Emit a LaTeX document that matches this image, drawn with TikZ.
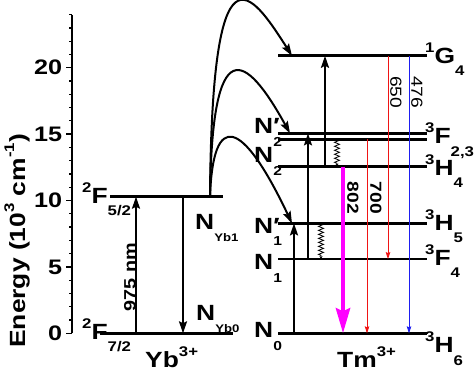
\documentclass[tikz,border=0pt]{standalone}
\usepackage{fontspec}
\setmainfont{Liberation Sans}[FakeStretch=1.2]
\usetikzlibrary{arrows.meta,positioning,decorations.pathmorphing}
\newcommand{\fs}[1]{\fontsize{#1}{#1}\selectfont}
\newcommand{\up}[1]{\raisebox{.5em}{\fs{14}#1}}
\newcommand{\dn}[2][14]{\raisebox{-.55em}{\fs{#1}#2}}
\newcommand{\term}[3]{\up{#1}#2\dn{#3}}
\newcommand{\pr}{\rlap{\char"2032}}
\definecolor{emred}{RGB}{240,20,20}
\definecolor{emblue}{RGB}{30,30,240}
\definecolor{emmag}{RGB}{255,0,255}

\begin{document}
\begin{tikzpicture}[x=1pt, y=13.28pt,
  lvl/.style={line width=2.7pt},
  ar/.style={line width=2.2pt, -{Stealth[length=12pt,width=8pt,inset=2pt]}},
  cv/.style={ar, line width=2pt},
  wv/.style={line width=.8pt, -{Stealth[length=3pt,width=3pt]}, decorate,
             decoration={zigzag, amplitude=2.5pt, segment length=4pt, post length=3pt}},
  em/.style={line width=.9pt, -{Stealth[length=7pt,width=4.5pt,inset=1pt]}},
  lbl/.style={inner sep=0pt, anchor=base west, font=\bfseries\fs{22}},
  nm/.style={inner sep=0pt, rotate=-90, font=\fs{16}},
  tk/.style={inner sep=0pt, font=\bfseries\fs{21}}]
\useasboundingbox (0,-2.84) rectangle (474,25.10);

% energy axis
\draw[line width=2pt] (72,0) -- (72,24);
\foreach \e in {0,...,24} \draw[line width=1.3pt] (72,\e) -- ++(-3.5,0);
\foreach \e in {0,5,...,20}
  \draw[line width=1.5pt] (72,\e) -- ++(-6.5,0) node[tk, left=2.5pt] (t\e) {\e};
\node[rotate=90, anchor=west, inner sep=0pt, font=\bfseries\fs{22}] (elab) at (17,-1.1)
  {Energy (10\up{3} cm\up{-1})};

% Yb levels
\coordinate (lF72) at (100,0);     \coordinate (rF72) at (233,0);
\coordinate (lF52) at (110,10.29); \coordinate (rF52) at (223,10.29);
\draw[lvl] (lF72) -- (rF72);
\draw[lvl] (lF52) -- (rF52);

% Tm levels
\foreach \n/\e in {H6/0, F4/5.59, H5/8.28, H4/12.55, F3/14.61, F2/15.06, G4/20.90}{
  \coordinate (l\n) at (278,\e); \coordinate (r\n) at (427,\e);
  \draw[lvl] (l\n) -- (r\n);}

% level names
\node[lbl] (tF52) at (82,9.81) {\term{2}{F}{5/2}};
\node[lbl] (tF72) at (82,-0.43) {\term{2}{F}{7/2}};
\node[lbl] (yb) at (145,-2.6) {Yb\up{3+}};
\node[lbl] (tm) at (337,-2.6) {Tm\up{3+}};
\node[lbl] (nyb1) at (195,7.85) {N\dn[11]{Yb1}};
\node[lbl] (nyb0) at (196,1.0) {N\dn[11]{Yb0}};
\node[lbl] (n0) at (254,-0.35) {N\dn[13]{0}};
\node[lbl] (n1) at (254,4.77) {N\dn[13]{1}};
\node[lbl] (n1p) at (254,7.55) {N\pr\dn[13]{1}};
\node[lbl] (n2) at (254,12.83) {N\dn[13]{2}};
\node[lbl] (n2p) at (254,15.01) {N\pr\dn[13]{2}};
\node[lbl] (tG4) at (425,20.35) {\term{1}{G}{4}};
\node[lbl] (tF23) at (425,14.26) {\term{3}{F}{2,3}};
\node[lbl] (tH4) at (425,11.92) {\term{3}{H}{4}};
\node[lbl] (tH5) at (425,7.78) {\term{3}{H}{5}};
\node[lbl] (tF4) at (425,5.14) {\term{3}{F}{4}};
\node[lbl] (tH6) at (425,-1.48) {\term{3}{H}{6}};

% Yb pump and decay
\coordinate (pump) at (136,0);
\coordinate (dec) at (183,10.29);
\draw[ar] (pump) -- (pump |- lF52);
\draw[ar] (dec) -- (dec |- lF72);
\node[rotate=90, inner sep=0pt, font=\bfseries\fs{16.5}] (l975) at (130,4.24) {975 nm};

% energy transfer
\coordinate (et) at (210,10.29);
\coordinate (etG4) at (292,20.90);
\coordinate (etF2) at (290,15.06);
\coordinate (etH5) at (292,8.28);
\draw[cv] (et) .. controls (212,29.99) and (250,25.85) .. (etG4);
\draw[cv] (et) .. controls (212,22.84) and (245,21.18) .. (etF2);
\draw[cv] (et) .. controls (213,16.81) and (242,16.21) .. (etH5);

% Tm absorption
\coordinate (a1) at (294,0);
\coordinate (a2) at (308,5.59);
\coordinate (a3) at (325,12.55);
\draw[ar] (a1) -- (a1 |- lH5);
\draw[ar] (a2) -- (a2 |- lF2);
\draw[ar] (a3) -- (a3 |- lG4);

% nonradiative
\coordinate (w1) at (337,14.61);
\coordinate (w2) at (321,8.28);
\draw[wv] (w1) -- (w1 |- lH4);
\draw[wv] (w2) -- (w2 |- lF4);

% emission
\coordinate (e802) at (343,12.55);
\coordinate (e700) at (367,14.61);
\coordinate (e650) at (388,20.90);
\coordinate (e476) at (409,20.90);
\draw[emmag, line width=4.5pt, -{Stealth[length=25pt,width=14pt,inset=3pt]}] (e802) -- (e802 |- lH6);
\draw[em, emred] (e700) -- (e700 |- lH6);
\draw[em, emred] (e650) -- (e650 |- lF4);
\draw[em, emblue] (e476) -- (e476 |- lH6);
\node[nm, font=\bfseries\fs{16}] (l802) at (353,10.19) {802};
\node[nm, font=\bfseries\fs{16}] (l700) at (376,10.19) {700};
\node[nm] (l650) at (396,18.17) {650};
\node[nm] (l476) at (417,18.17) {476};
\end{tikzpicture}
\end{document}
